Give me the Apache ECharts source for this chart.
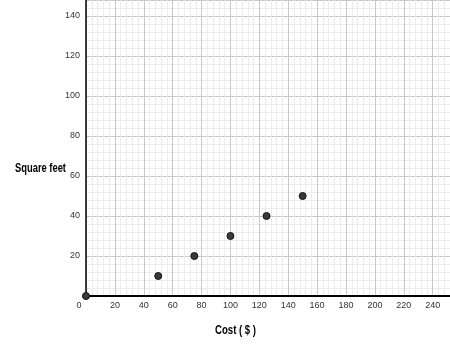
<!DOCTYPE html>
<html><head><meta charset="utf-8">
<script src="https://cdn.jsdelivr.net/npm/echarts@6/dist/echarts.min.js"></script>
<style>html,body{margin:0;padding:0;background:#fff}#c{width:450px;height:350px}</style>
</head><body><div id="c"></div>
<script>
var costs = [0, 50, 75, 100, 125, 150];
var squareFeet = [0, 10, 20, 30, 40, 50];
var xTitle = 'Cost ( $ )';
var yTitle = 'Square feet';
var font = '"Liberation Sans", Arial, sans-serif';

var chart = echarts.init(document.getElementById('c'));
chart.setOption({
  animation: false,
  grid: {left: 86, right: 0, top: 0, bottom: 54},
  xAxis: {
    type: 'value', min: 0, max: 252, interval: 20,
    axisLine: {show: true, lineStyle: {color: '#000', width: 2}},
    axisTick: {show: false},
    axisLabel: {
      showMaxLabel: false, color: '#333', fontSize: 9, fontFamily: font, margin: 5,
      formatter: function (v) { return v === 0 ? '{z|0}' : String(v); },
      rich: {z: {padding: [0, 14, 0, 0], color: '#333', fontSize: 9, fontFamily: font}}
    },
    splitLine: {show: true, lineStyle: {color: '#c8c8c8', width: 1}},
    minorTick: {show: false, splitNumber: 5},
    minorSplitLine: {show: true, lineStyle: {color: '#ececec', width: 1}}
  },
  yAxis: {
    type: 'value', min: 0, max: 148, interval: 20,
    axisLine: {show: true, lineStyle: {color: '#000', width: 1.5}},
    axisTick: {show: false},
    axisLabel: {
      showMaxLabel: false, showMinLabel: false, color: '#333', fontSize: 9, fontFamily: font, margin: 6
    },
    splitLine: {show: true, lineStyle: {color: '#c8c8c8', width: 1}},
    minorTick: {show: false, splitNumber: 5},
    minorSplitLine: {show: true, lineStyle: {color: '#ececec', width: 1}}
  },
  graphic: [
    {type: 'text', x: 15, y: 162, scaleX: 0.72, style: {text: yTitle, font: 'bold 13px ' + font, fill: '#000'}},
    {type: 'text', x: 215, y: 325, scaleX: 0.8, style: {text: xTitle, font: 'bold 12px ' + font, fill: '#000'}}
  ],
  series: [{
    type: 'scatter',
    data: costs.map(function (c, i) { return [c, squareFeet[i]]; }),
    symbolSize: 7,
    itemStyle: {color: '#3a3a3a', borderColor: '#111', borderWidth: 1, opacity: 1},
    z: 5
  }]
});
</script></body></html>
